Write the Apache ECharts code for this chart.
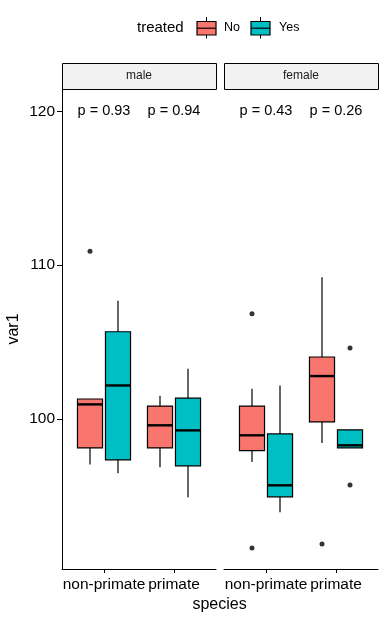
<!DOCTYPE html>
<html><head><meta charset="utf-8">
<script src="https://cdn.jsdelivr.net/npm/echarts@6/dist/echarts.min.js"></script>
<style>html,body{margin:0;padding:0;background:#fff}#c{width:387px;height:621px}</style>
</head><body><div id="c"></div>
<script>
// ---- data ----
const categories = ['non-primate', 'primate'];
const panels = ['male', 'female'];
const groups = ['No', 'Yes'];
const groupColors = ['#F8766D', '#00BFC4'];
// [categoryIndex, lowerWhisker, Q1, median, Q3, upperWhisker]
const maleNo    = [[0, 97.05, 98.12, 100.95, 101.30, 101.30], [1, 96.86, 98.12, 99.59, 100.84, 101.51]];
const maleYes   = [[0, 96.47, 97.34, 102.18, 105.67, 107.68], [1, 94.91, 96.95, 99.26, 101.36, 103.27]];
const femaleNo  = [[0, 97.21, 97.94, 98.94, 100.84, 101.97], [1, 98.44, 99.81, 102.79, 104.03, 109.22]];
const femaleYes = [[0, 93.94, 94.94, 95.69, 99.03, 102.18], [1, 98.12, 98.12, 98.29, 99.29, 99.29]];
// outliers: [categoryIndex, value]
const outMaleNo = [[0, 110.9]];
const outMaleYes = [];
const outFemaleNo = [[0, 106.84], [0, 91.62], [1, 91.88]];
const outFemaleYes = [[1, 104.61], [1, 95.71]];
const pMale = ['0.93', '0.94'];
const pFemale = ['0.43', '0.26'];
const pLabelY = 120;
const yTicks = [100, 110, 120];

// ---- chart ----
const FONT = 'Liberation Sans, Arial, sans-serif';
const DODGE = 0.2, HALF = 0.179;
const boxData = [[maleNo, maleYes], [femaleNo, femaleYes]];
const outData = [[outMaleNo, outMaleYes], [outFemaleNo, outFemaleYes]];
const pData = [pMale, pFemale];

function boxRender(offset) {
  return function (params, api) {
    const x = api.value(0) + 1 + offset;
    const lo = api.value(1), q1 = api.value(2), md = api.value(3), q3 = api.value(4), hi = api.value(5);
    const a = api.coord([x - HALF, q3]), b = api.coord([x + HALF, q1]);
    const t = api.coord([x, hi]), t3 = api.coord([x, q3]), t1 = api.coord([x, q1]), l = api.coord([x, lo]);
    const m1 = api.coord([x - HALF, md]), m2 = api.coord([x + HALF, md]);
    const ls = {stroke: '#000', lineWidth: 1.2};
    return {type: 'group', children: [
      {type: 'line', shape: {x1: t[0], y1: t[1], x2: t3[0], y2: t3[1]}, style: ls},
      {type: 'line', shape: {x1: t1[0], y1: t1[1], x2: l[0], y2: l[1]}, style: ls},
      {type: 'rect', shape: {x: a[0], y: a[1], width: b[0] - a[0], height: b[1] - a[1]},
        style: {fill: api.visual('color'), stroke: '#000', lineWidth: 1.2}},
      {type: 'line', shape: {x1: m1[0], y1: m1[1], x2: m2[0], y2: m2[1]}, style: {stroke: '#000', lineWidth: 2.4}}
    ]};
  };
}

const grids = [], xAxes = [], yAxes = [], series = [];
const panelLeft = [62, 224];
panels.forEach(function (pn, pi) {
  grids.push({left: panelLeft[pi], top: 89, width: 154, height: 480});
  xAxes.push({type: 'value', gridIndex: pi, min: 0.4, max: 2.6,
    axisLine: {show: true, lineStyle: {color: '#000', width: 1}},
    axisTick: {show: true, length: 4, customValues: [1, 2], lineStyle: {color: '#000'}},
    axisLabel: {show: true, customValues: [1, 2], margin: 8, color: '#000', fontSize: 15.5, fontFamily: FONT,
      formatter: function (v) { return categories[Math.round(v) - 1] || ''; }},
    splitLine: {show: false}});
  yAxes.push({type: 'value', gridIndex: pi, min: 90.25, max: 121.45,
    axisLine: {show: pi === 0, lineStyle: {color: '#000', width: 1}},
    axisTick: {show: pi === 0, length: 5, customValues: yTicks, lineStyle: {color: '#000'}},
    axisLabel: {show: pi === 0, customValues: yTicks, margin: 7, color: '#000', fontSize: 15.5, fontFamily: FONT},
    splitLine: {show: false},
    name: pi === 0 ? 'var1' : '', nameLocation: 'middle', nameGap: 40,
    nameTextStyle: {color: '#000', fontSize: 16, fontFamily: FONT}});
  groups.forEach(function (g, gi) {
    const off = gi === 0 ? -DODGE : DODGE;
    series.push({type: 'custom', name: g, xAxisIndex: pi, yAxisIndex: pi,
      itemStyle: {color: groupColors[gi]},
      encode: {x: 0, y: [1, 2, 3, 4, 5]},
      renderItem: boxRender(off), data: boxData[pi][gi], z: 2});
    series.push({type: 'scatter', name: g + ' outliers', xAxisIndex: pi, yAxisIndex: pi,
      symbolSize: 5, itemStyle: {color: '#000'}, z: 3, silent: true,
      data: outData[pi][gi].map(function (d) { return [d[0] + 1 + off, d[1]]; })});
  });
  series.push({type: 'custom', name: 'p ' + pn, xAxisIndex: pi, yAxisIndex: pi, z: 4,
    encode: {x: 0, y: 1},
    data: pData[pi].map(function (p, ci) { return [ci + 1, pLabelY]; }),
    renderItem: function (params, api) {
      const c = api.coord([api.value(0), api.value(1)]);
      return {type: 'text', x: c[0], y: c[1], style: {text: 'p = ' + pData[pi][params.dataIndex],
        align: 'center', verticalAlign: 'middle', fill: '#000', font: '14.5px ' + FONT}};
    }});
});

const graphics = [];
panels.forEach(function (pn, pi) {
  graphics.push({type: 'rect', left: panelLeft[pi], top: 63, shape: {width: 154, height: 26},
    style: {fill: '#F2F2F2', stroke: '#000', lineWidth: 1}});
  graphics.push({type: 'text', x: panelLeft[pi] + 77, y: 76,
    style: {text: pn, align: 'center', verticalAlign: 'middle', fill: '#1a1a1a', font: '12px ' + FONT}});
});
graphics.push({type: 'text', x: 219.5, y: 605,
  style: {text: 'species', align: 'center', verticalAlign: 'middle', fill: '#000', font: '16px ' + FONT}});
// legend
graphics.push({type: 'text', x: 137, y: 28,
  style: {text: 'treated', align: 'left', verticalAlign: 'middle', fill: '#000', font: '15px ' + FONT}});
const keyX = [197, 251], labX = [224, 279];
groups.forEach(function (g, gi) {
  const kx = keyX[gi];
  graphics.push({type: 'line', shape: {x1: kx + 9.5, y1: 17, x2: kx + 9.5, y2: 38.5}, style: {stroke: '#000', lineWidth: 1}});
  graphics.push({type: 'rect', shape: {x: kx, y: 21.5, width: 19, height: 13.5},
    style: {fill: groupColors[gi], stroke: '#000', lineWidth: 1.2}});
  graphics.push({type: 'line', shape: {x1: kx, y1: 28.2, x2: kx + 19, y2: 28.2}, style: {stroke: '#000', lineWidth: 1.2}});
  graphics.push({type: 'text', x: labX[gi], y: 28,
    style: {text: g, align: 'left', verticalAlign: 'middle', fill: '#000', font: '12.5px ' + FONT}});
});

const chart = echarts.init(document.getElementById('c'), null, {renderer: 'canvas'});
chart.setOption({
  animation: false,
  backgroundColor: '#fff',
  grid: grids, xAxis: xAxes, yAxis: yAxes, series: series,
  graphic: graphics
});
</script></body></html>
